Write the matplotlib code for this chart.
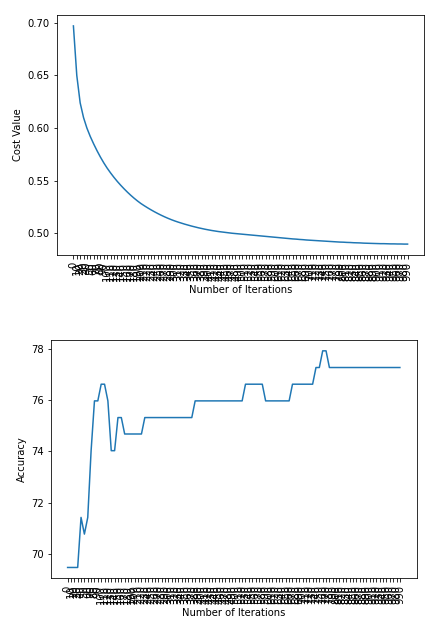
import matplotlib
matplotlib.use("Agg")
import matplotlib.pyplot as plt

# iteration labels (every 10th iteration recorded)
iterations = [str(i * 10) for i in range(100)]

cost_values = [
    0.697, 0.650, 0.624, 0.610, 0.600, 0.592, 0.585, 0.5785, 0.5725, 0.567,
    0.562, 0.5575, 0.5533, 0.5494, 0.5458, 0.5424, 0.5392, 0.5362, 0.5334, 0.5308,
    0.5284, 0.5263, 0.5243, 0.5224, 0.5206, 0.5189, 0.5173, 0.5158, 0.5144, 0.5131,
    0.5119, 0.5108, 0.5098, 0.5088, 0.5079, 0.5070, 0.5062, 0.5054, 0.5047, 0.5040,
    0.5034, 0.5028, 0.5023, 0.5018, 0.5014, 0.5010, 0.5006, 0.5002, 0.4999, 0.4996,
    0.4993, 0.4990, 0.4987, 0.4984, 0.4981, 0.4978, 0.4975, 0.4972, 0.4969, 0.4966,
    0.4963, 0.4960, 0.4957, 0.4954, 0.4951, 0.4948, 0.4946, 0.4943, 0.4941, 0.4938,
    0.4936, 0.4934, 0.4932, 0.4930, 0.4928, 0.4926, 0.4924, 0.4922, 0.4920, 0.4918,
    0.4917, 0.4915, 0.4914, 0.4912, 0.4911, 0.4910, 0.4908, 0.4907, 0.4906, 0.4905,
    0.4904, 0.4903, 0.4903, 0.4902, 0.4901, 0.4901, 0.4900, 0.4900, 0.4899, 0.4899,
]

accuracy = (
    [69.48] * 4
    + [71.43, 70.78, 71.43, 74.03]
    + [75.97] * 2
    + [76.62] * 2
    + [75.97]
    + [74.03] * 2
    + [75.32] * 2
    + [74.68] * 6
    + [75.32] * 15
    + [75.97] * 15
    + [76.62] * 6
    + [75.97] * 8
    + [76.62] * 7
    + [77.27] * 2
    + [77.92] * 2
    + [77.27] * 22
)

W, H = 431, 625
fig = plt.figure(figsize=(W / 72, H / 72), dpi=72)


def px_axes(left, top, right, bottom):
    return fig.add_axes([left / W, 1 - bottom / H, (right - left) / W, (bottom - top) / H])


ax1 = px_axes(56.7, 15, 424.3, 255)
ax1.plot(range(len(cost_values)), cost_values)
ax1.set_xticks(range(len(iterations)))
ax1.set_xticklabels(iterations, rotation=90)
ax1.set_xlabel("Number of Iterations")
ax1.set_ylabel("Cost Value")

ax2 = px_axes(51, 340, 416.5, 578.3)
ax2.plot(range(len(accuracy)), accuracy)
ax2.set_xticks(range(len(iterations)))
ax2.set_xticklabels(iterations, rotation=90)
ax2.set_yticks([70, 72, 74, 76, 78])
ax2.set_xlabel("Number of Iterations")
ax2.set_ylabel("Accuracy")

fig.savefig("out.png", dpi=72)
